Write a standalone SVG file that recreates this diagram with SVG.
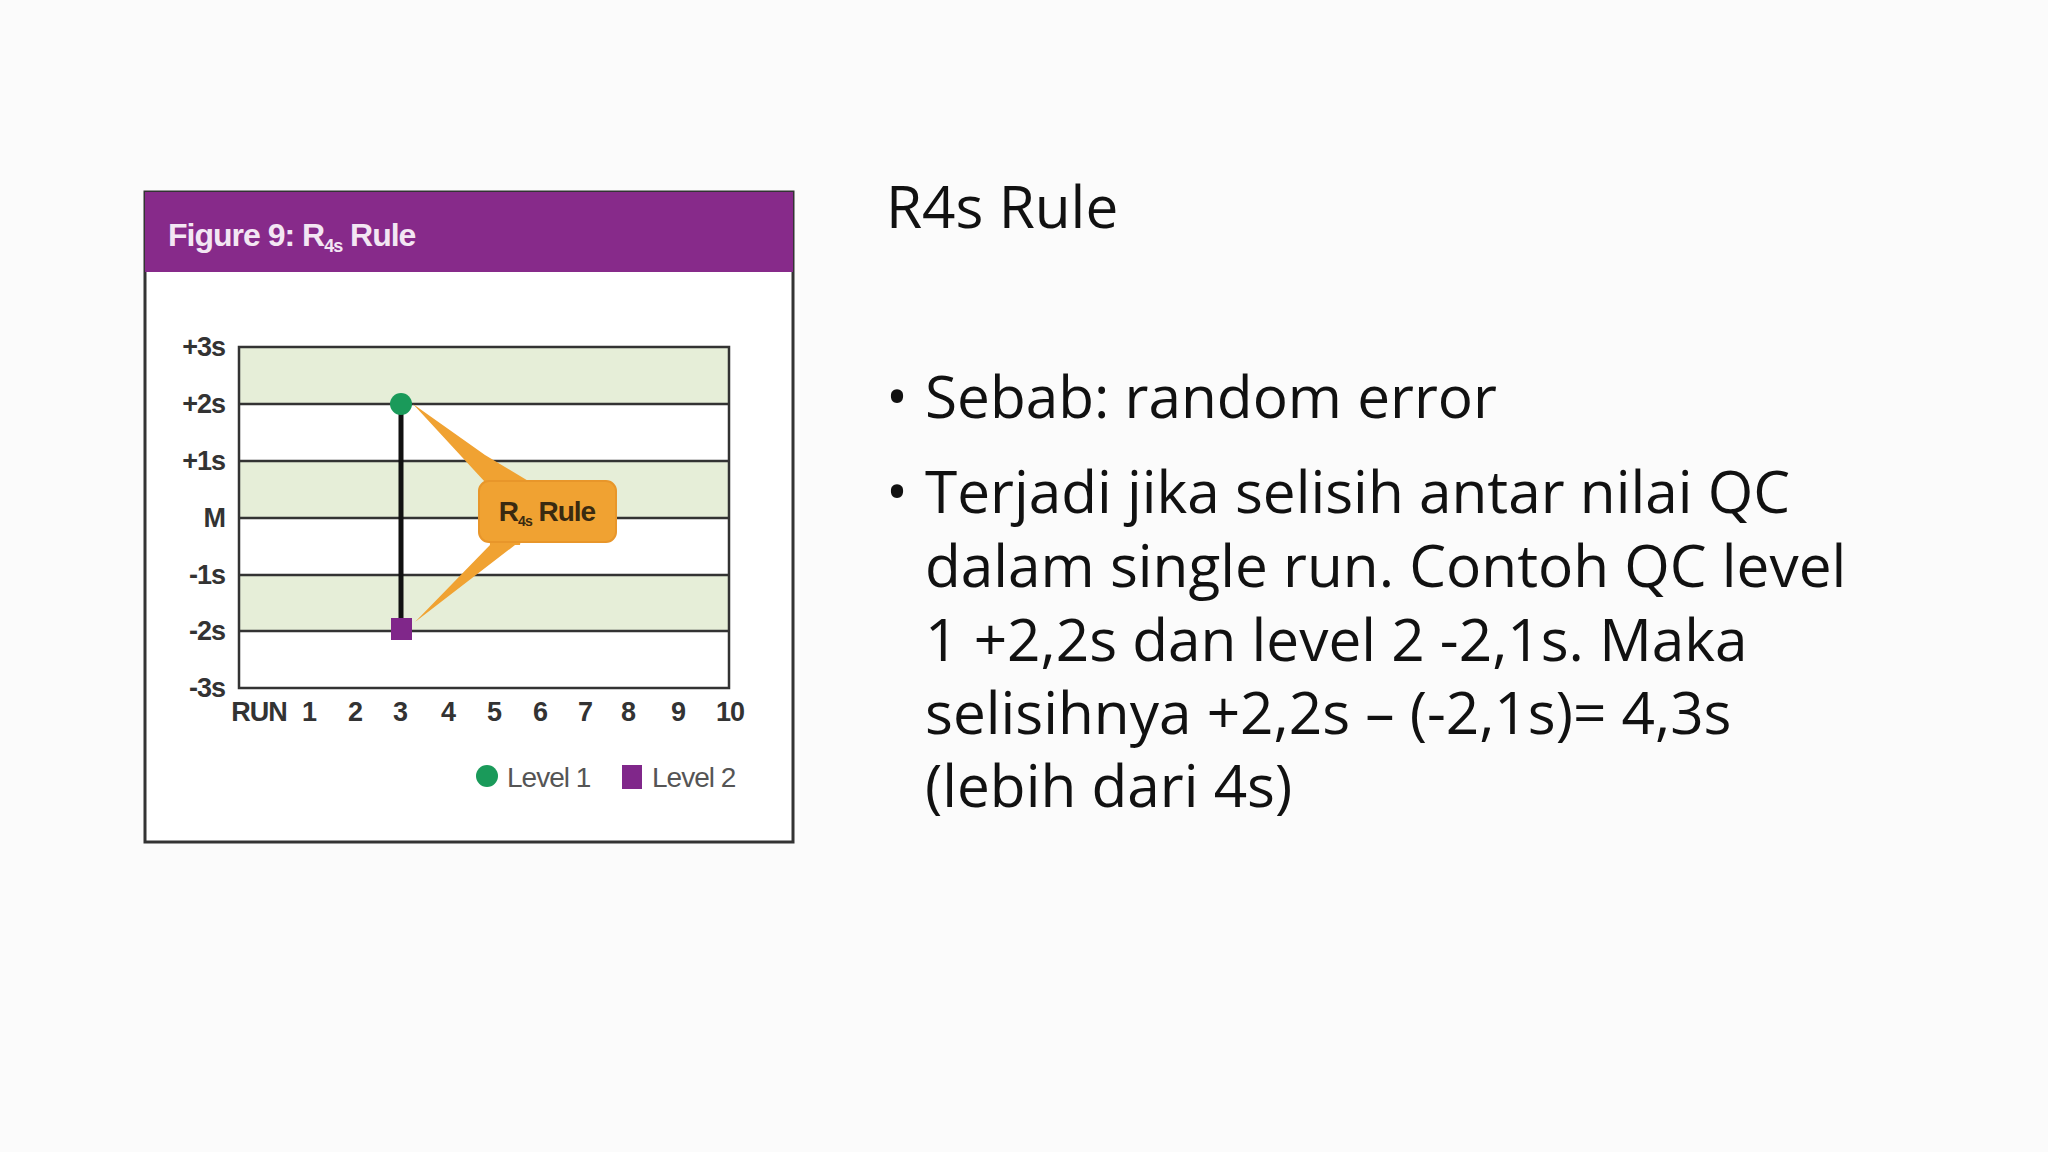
<svg xmlns="http://www.w3.org/2000/svg" width="2048" height="1152" viewBox="0 0 2048 1152">
<style>
.ax{font-family:"Liberation Sans",Arial,sans-serif;font-size:27px;fill:#333;letter-spacing:-1px;font-weight:bold}
.lg{font-family:"Liberation Sans",Arial,sans-serif;font-size:28px;fill:#555;letter-spacing:-1px}
.grid{stroke:#333;stroke-width:2.5}
.t{font-family:"Open Sans","Noto Sans",sans-serif;font-size:58.5px;fill:#111}
</style>
<rect width="2048" height="1152" fill="#fbfbfb"/>
<g id="figure">
<rect x="145" y="192" width="648" height="650" fill="#fff" stroke="#333" stroke-width="3"/>
<rect x="145" y="192" width="648" height="80" fill="#872a8a"/>
<text x="168" y="246" font-family="Liberation Sans,Arial,sans-serif" font-size="32" font-weight="bold" fill="#f3e6f3" letter-spacing="-1">Figure 9: R<tspan font-size="18" dy="6">4s</tspan><tspan dy="-6"> Rule</tspan></text>
<rect x="239" y="347" width="490" height="57" fill="#e6eed8"/>
<rect x="239" y="461" width="490" height="57" fill="#e6eed8"/>
<rect x="239" y="575" width="490" height="56" fill="#e6eed8"/>
<rect x="239" y="347" width="490" height="341" fill="none" stroke="#333" stroke-width="2.5"/>
<g class="grid"><line x1="239" y1="404" x2="729" y2="404"/><line x1="239" y1="461" x2="729" y2="461"/><line x1="239" y1="518" x2="729" y2="518"/><line x1="239" y1="575" x2="729" y2="575"/><line x1="239" y1="631" x2="729" y2="631"/></g>
<g class="ax" text-anchor="end"><text x="225" y="356">+3s</text><text x="225" y="413">+2s</text><text x="225" y="470">+1s</text><text x="225" y="527">M</text><text x="225" y="584">-1s</text><text x="225" y="640">-2s</text><text x="225" y="697">-3s</text></g>
<g class="ax" text-anchor="middle"><text x="259" y="721">RUN</text><text x="309" y="721">1</text><text x="355" y="721">2</text><text x="400" y="721">3</text><text x="448" y="721">4</text><text x="494" y="721">5</text><text x="540" y="721">6</text><text x="585" y="721">7</text><text x="628" y="721">8</text><text x="678" y="721">9</text><text x="730" y="721">10</text></g>
<line x1="401" y1="404" x2="401" y2="628" stroke="#111" stroke-width="5"/>
<path d="M413,404 L485,455 L530,482 L520,545 L515,545 L415,622 L490,545 L485,482 Z" fill="#f0a232"/>
<rect x="479" y="481" width="137" height="61" rx="10" fill="#f0a232" stroke="#e8962a" stroke-width="2"/>
<text x="547" y="521" text-anchor="middle" font-family="Liberation Sans,Arial,sans-serif" font-size="28" font-weight="bold" fill="#3a2a10" letter-spacing="-1">R<tspan font-size="14" dy="5">4s</tspan><tspan dy="-5"> Rule</tspan></text>
<circle cx="401" cy="404" r="11" fill="#1a9a5a"/>
<rect x="391" y="618" width="21" height="22" fill="#80278a"/>
<circle cx="487" cy="776" r="11" fill="#1a9a5a"/>
<text x="507" y="787" class="lg">Level 1</text>
<rect x="622" y="765" width="20" height="24" fill="#80278a"/>
<text x="652" y="787" class="lg">Level 2</text>
</g>
<g id="text">
<text x="886" y="228" class="t">R4s Rule</text>
<text x="886" y="418" class="t">•</text><text x="925" y="418" class="t">Sebab: random error</text>
<text x="886" y="513" class="t">•</text>
<text class="t"><tspan x="925" y="513">Terjadi jika selisih antar nilai QC</tspan><tspan x="925" y="587">dalam single run. Contoh QC level</tspan><tspan x="925" y="661">1 +2,2s dan level 2 -2,1s. Maka</tspan><tspan x="925" y="734">selisihnya +2,2s – (-2,1s)= 4,3s</tspan><tspan x="925" y="807">(lebih dari 4s)</tspan></text>
</g>
</svg>
